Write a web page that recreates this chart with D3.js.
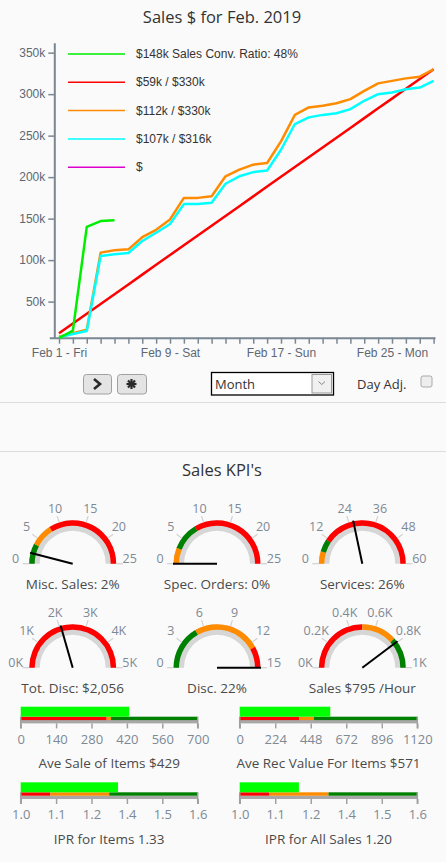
<!DOCTYPE html>
<html>
<head>
<meta charset="utf-8">
<script src="https://cdn.jsdelivr.net/npm/d3@7"></script>
<style>
  html, body { margin: 0; padding: 0; background: #fafafa; }
  svg { display: block; }
</style>
</head>
<body>
<svg id="chart" width="446" height="862"></svg>
<script>
// ---------------- DATA ----------------
const days = [1,2,3,4,5,6,7,8,9,10,11,12,13,14,15,16,17,18,19,20,21,22,23,24,25,26,27,28];
const xTickLabels = {1: "Feb 1 - Fri", 9: "Feb 9 - Sat", 17: "Feb 17 - Sun", 25: "Feb 25 - Mon"};
const yTicks = [50000, 100000, 150000, 200000, 250000, 300000, 350000];

const salesConv = [6000, 15000, 140000, 147000, 148000];
const targetLine = [11800, 23600, 35400, 47100, 58900, 70700, 82500, 94300, 106100, 117900, 129600, 141400, 153200, 165000, 176800, 188600, 200400, 212100, 223900, 235700, 247500, 259300, 271100, 282900, 294600, 306400, 318200, 330000];
const orangeLine = [7600, 12000, 16000, 109000, 112000, 113000, 127600, 136500, 149000, 175000, 175000, 177000, 201000, 209000, 215000, 217000, 243000, 275000, 284000, 286000, 289000, 294000, 304000, 313000, 316000, 319000, 321000, 330000];
const cyanLine = [7000, 11000, 14500, 105000, 107000, 108500, 123000, 133000, 143500, 167500, 167500, 169000, 192000, 201000, 206000, 208000, 233000, 264000, 272000, 275000, 277000, 282000, 292000, 300000, 302000, 306000, 308000, 316000];
const magentaLine = [];

const legendLabels = ["$148k Sales Conv. Ratio: 48%", "$59k / $330k", "$112k / $330k", "$107k / $316k", "$"];
const legendColors = ["#00ee00", "#ff0000", "#ff8c00", "#00ffff", "#dd00cc"];

const gaugeLabels = ["Misc. Sales: 2%", "Spec. Orders: 0%", "Services: 26%", "Tot. Disc: $2,056", "Disc. 22%", "Sales $795 /Hour"];
const gaugeMax = [25, 25, 60, 5000, 15, 1000];
const gaugeValues = [2, 0, 26, 2056, 22, 795];
const gaugeTickLabels = [
  ["0","5","10","15","20","25"],
  ["0","5","10","15","20","25"],
  ["0","12","24","36","48","60"],
  ["0K","1K","2K","3K","4K","5K"],
  ["0","3","6","9","12","15"],
  ["0K","0.2K","0.4K","0.6K","0.8K","1K"]
];
const gaugeBands = [
  [[0, 3.8, "green"], [3.8, 8, "orange"], [8, 25, "red"]],
  [[0, 3, "orange"], [3, 8.2, "green"], [8.2, 25, "red"]],
  [[0, 5.6, "orange"], [5.6, 11.3, "green"], [11.3, 60, "red"]],
  [[0, 5000, "red"]],
  [[0, 5, "green"], [5, 12.6, "orange"], [12.6, 15, "red"]],
  [[0, 500, "red"], [500, 765, "orange"], [765, 1000, "green"]]
];

const bulletLabels = ["Ave Sale of Items $429", "Ave Rec Value For Items $571", "IPR for Items 1.33", "IPR for All Sales 1.20"];
const bulletValues = [429, 571, 1.33, 1.20];
const bulletDomains = [[0, 700], [0, 1120], [1.0, 1.6], [1.0, 1.6]];
const bulletThresholds = [[340, 357], [376, 468], [1.1, 1.3], [1.1, 1.3]];
const bulletTickFormats = ["d", "d", ".1f", ".1f"];

// ---------------- STYLE ----------------
const COL = { red: "#ff0000", orange: "#ff8c00", green: "#008000", lime: "#00ff00", gray: "#d6d6d6" };
const uiFont = "'Open Sans', 'Noto Sans', sans-serif";
const arialFont = "'Liberation Sans', Arial, sans-serif";
const axisColor = "#7b8792";
const tickTextColor = "#5d6873";
const gaugeTickColor = "#7d8995";
const labelColor = "#4a4a4a";

const svg = d3.select("#chart");
svg.append("rect").attr("width", 446).attr("height", 862).attr("fill", "#fafafa");

// ---------------- LINE CHART ----------------
svg.append("text").attr("x", 222).attr("y", 16).attr("text-anchor", "middle")
  .attr("dominant-baseline", "central").attr("font-family", uiFont).attr("font-size", 16.5)
  .attr("fill", "#333").text("Sales $ for Feb. 2019");

const x = d3.scaleLinear().domain([0.3, 28.1]).range([49.3, 435]);
const y = d3.scaleLinear().domain([6500, 362000]).range([337.7, 42.7]);

const xAxis = d3.axisBottom(x).tickValues(days).tickSize(6).tickSizeOuter(0)
  .tickFormat(d => xTickLabels[d] || "");
const gx = svg.append("g").attr("transform", "translate(0,337.7)").call(xAxis);
const yAxis = d3.axisLeft(y).tickValues(yTicks).tickSize(6).tickSizeOuter(0)
  .tickFormat(d => (d / 1000) + "k");
const gy = svg.append("g").attr("transform", "translate(54.3,0)").call(yAxis);
[gx, gy].forEach(g => {
  g.selectAll("path.domain").attr("stroke", axisColor).attr("stroke-width", 2);
  g.selectAll(".tick line").attr("stroke", axisColor).attr("stroke-width", 1.5);
  g.selectAll(".tick text").attr("fill", tickTextColor).attr("font-family", arialFont).attr("font-size", 12);
});
gx.selectAll(".tick text").attr("dy", "0.9em");

const line = d3.line().x((d, i) => x(days[i])).y(d => y(d));
const series = [
  [targetLine, legendColors[1]],
  [orangeLine, legendColors[2]],
  [cyanLine, legendColors[3]],
  [salesConv, legendColors[0]],
  [magentaLine, legendColors[4]]
];
series.forEach(([vals, c]) => {
  if (!vals.length) return;
  svg.append("path").datum(vals).attr("d", line).attr("fill", "none")
    .attr("stroke", c).attr("stroke-width", 2.5).attr("stroke-linejoin", "round");
});

const legend = svg.append("g");
legendLabels.forEach((t, i) => {
  const ly = 54 + i * 28.3;
  legend.append("line").attr("x1", 68).attr("x2", 125).attr("y1", ly).attr("y2", ly)
    .attr("stroke", legendColors[i]).attr("stroke-width", 1.5);
  legend.append("text").attr("x", 136).attr("y", ly).attr("dominant-baseline", "central")
    .attr("font-family", arialFont).attr("font-size", 12).attr("fill", "#333").text(t);
});

// ---------------- CONTROLS ----------------
const ctl = svg.append("g");
[[83, 28], [117, 29]].forEach(([bx, bw]) => {
  ctl.append("rect").attr("x", bx + 0.5).attr("y", 374.5).attr("width", bw).attr("height", 19.5)
    .attr("rx", 3).attr("fill", "#e4e4e4").attr("stroke", "#a0a0a0");
});
ctl.append("path").attr("d", "M94,379 L100,384 L94,389").attr("fill", "none")
  .attr("stroke", "#2a2a2a").attr("stroke-width", 2.6);
[0, 45, 90, 135].forEach(a => {
  const r = 5, rad = a * Math.PI / 180;
  ctl.append("line").attr("x1", 131.5 - r * Math.cos(rad)).attr("y1", 384 - r * Math.sin(rad))
    .attr("x2", 131.5 + r * Math.cos(rad)).attr("y2", 384 + r * Math.sin(rad))
    .attr("stroke", "#2a2a2a").attr("stroke-width", 2.2);
});
ctl.append("rect").attr("x", 211.5).attr("y", 372.5).attr("width", 122).attr("height", 22.5)
  .attr("fill", "#fff").attr("stroke", "#000").attr("stroke-width", 1.3);
ctl.append("rect").attr("x", 312).attr("y", 374.5).attr("width", 19.5).attr("height", 18.5)
  .attr("fill", "#f0f0f0").attr("stroke", "#999");
ctl.append("path").attr("d", "M318.5,381.5 L321.75,384.5 L325,381.5").attr("fill", "none")
  .attr("stroke", "#888").attr("stroke-width", 1);
ctl.append("text").attr("x", 215).attr("y", 384).attr("dominant-baseline", "central")
  .attr("font-family", uiFont).attr("font-size", 13).attr("fill", "#333").text("Month");
ctl.append("text").attr("x", 357).attr("y", 384).attr("dominant-baseline", "central")
  .attr("font-family", uiFont).attr("font-size", 13).attr("fill", "#333").text("Day Adj.");
ctl.append("rect").attr("x", 421).attr("y", 376).attr("width", 11).attr("height", 11)
  .attr("rx", 2).attr("fill", "#eee").attr("stroke", "#aaa");

svg.append("line").attr("x1", 0).attr("x2", 446).attr("y1", 402.5).attr("y2", 402.5).attr("stroke", "#dcdcdc");
svg.append("line").attr("x1", 0).attr("x2", 446).attr("y1", 451.5).attr("y2", 451.5).attr("stroke", "#dcdcdc");

// ---------------- GAUGES ----------------
svg.append("text").attr("x", 222).attr("y", 469.5).attr("text-anchor", "middle")
  .attr("dominant-baseline", "central").attr("font-family", uiFont).attr("font-size", 16.5)
  .attr("fill", "#333").text("Sales KPI's");

const gaugeCX = [72.7, 217, 362.3];
const gaugeCY = [563.7, 667.7];
const labelY = [583.5, 687.7];
const bandColor = { red: COL.red, orange: COL.orange, green: COL.green };

gaugeLabels.forEach((lab, gi) => {
  const cx = gaugeCX[gi % 3], cy = gaugeCY[Math.floor(gi / 3)];
  const g = svg.append("g").attr("transform", `translate(${cx},${cy})`);
  const ang = d3.scaleLinear().domain([0, gaugeMax[gi]]).range([-Math.PI / 2, Math.PI / 2]).clamp(true);
  g.append("path").attr("d", d3.arc()({ innerRadius: 33, outerRadius: 43.5, startAngle: -Math.PI / 2, endAngle: Math.PI / 2 }))
    .attr("fill", COL.gray);
  gaugeBands[gi].forEach(([a, b, c]) => {
    g.append("path").attr("d", d3.arc()({ innerRadius: 38, outerRadius: 43.5, startAngle: ang(a), endAngle: ang(b) }))
      .attr("fill", bandColor[c]);
  });
  const tl = gaugeTickLabels[gi];
  tl.forEach((t, k) => {
    const v = gaugeMax[gi] * k / (tl.length - 1);
    const th = ang(v);
    const sx = Math.sin(th), sy = -Math.cos(th);
    g.append("line").attr("x1", sx * 43.5).attr("y1", sy * 43.5).attr("x2", sx * 50).attr("y2", sy * 50)
      .attr("stroke", "#d0d0d0").attr("stroke-width", 1.2);
    const c2 = sx * sx;
    g.append("text").attr("x", sx * 57).attr("y", sy * 57 - 5 * c2 - 0.5)
      .attr("text-anchor", "middle").attr("dominant-baseline", "central")
      .attr("font-family", uiFont).attr("font-size", 12.5).attr("fill", gaugeTickColor).text(t);
  });
  const nth = ang(gaugeValues[gi]);
  g.append("line").attr("x1", 0).attr("y1", 0).attr("x2", Math.sin(nth) * 44).attr("y2", -Math.cos(nth) * 44)
    .attr("stroke", "#000").attr("stroke-width", 2);
  svg.append("text").attr("x", cx).attr("y", labelY[Math.floor(gi / 3)]).attr("text-anchor", "middle")
    .attr("dominant-baseline", "central").attr("font-family", uiFont).attr("font-size", 13.5)
    .attr("fill", labelColor).text(lab);
});

// ---------------- BULLETS ----------------
const bulletX = [[20.7, 197.7], [239.7, 417.3]];
const bulletTop = [706.7, 782.3];
bulletLabels.forEach((lab, bi) => {
  const [x0, x1] = bulletX[bi % 2];
  const top = bulletTop[Math.floor(bi / 2)];
  const dom = bulletDomains[bi];
  const s = d3.scaleLinear().domain(dom).range([x0, x1]);
  const g = svg.append("g");
  const [t1, t2] = bulletThresholds[bi];
  g.append("rect").attr("x", s(dom[0])).attr("width", s(dom[1]) - s(dom[0])).attr("y", top + 13.3).attr("height", 3.4).attr("fill", "#a8a8a8");
  [[dom[0], t1, COL.red], [t1, t2, COL.orange], [t2, dom[1], COL.green]].forEach(([a, b, c]) => {
    g.append("rect").attr("x", s(a)).attr("width", s(b) - s(a)).attr("y", top + 10).attr("height", 3.4).attr("fill", c);
  });
  g.append("rect").attr("x", s(dom[0])).attr("width", s(bulletValues[bi]) - s(dom[0])).attr("y", top).attr("height", 10).attr("fill", COL.lime);
  const ax = d3.axisBottom(s).tickValues(d3.range(6).map(k => dom[0] + (dom[1] - dom[0]) * k / 5))
    .tickFormat(d3.format(bulletTickFormats[bi])).tickSize(5).tickSizeOuter(0);
  const ga = g.append("g").attr("transform", `translate(0,${top + 16.7})`).call(ax);
  ga.select("path.domain").remove();
  ga.selectAll(".tick line").attr("stroke", "#a0a0a0").attr("stroke-width", 1.5);
  ga.selectAll(".tick text").attr("font-family", uiFont).attr("font-size", 13).attr("fill", gaugeTickColor).attr("dy", "0.95em");
  [dom[0], dom[1]].forEach(v => {
    g.append("line").attr("x1", s(v)).attr("x2", s(v)).attr("y1", top + 10).attr("y2", top + 21.7)
      .attr("stroke", "#a0a0a0").attr("stroke-width", 1.5);
  });
  svg.append("text").attr("x", (x0 + x1) / 2).attr("y", top + 56.6).attr("text-anchor", "middle")
    .attr("dominant-baseline", "central").attr("font-family", uiFont).attr("font-size", 13.5)
    .attr("fill", labelColor).text(lab);
});
</script>
</body>
</html>
